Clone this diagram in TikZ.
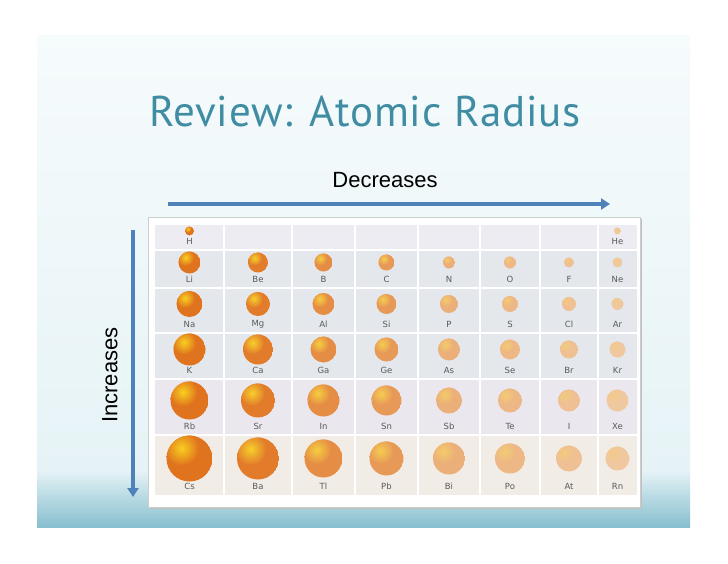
\documentclass[tikz,border=0pt]{standalone}
\usepackage{fontspec}
\setmainfont{Liberation Sans}
\newfontfamily\titlefont[LetterSpace=2]{PT Sans}
\newfontfamily\lblfont{DejaVu Sans}
\usetikzlibrary{arrows.meta}
\begin{document}
\begin{tikzpicture}[x=1pt,y=-1pt,
  lbl/.style={font=\lblfont\fontsize{8.5}{10}\selectfont, text=black!65, inner sep=0pt},
  arr/.style={line width=3.5pt, draw=arrowblue, -{Triangle[length=9pt,width=11pt]}}]
\definecolor{arrowblue}{HTML}{4E82B8}
\definecolor{titleblue}{HTML}{3F8CA3}
\definecolor{deep}{HTML}{E0741E}
\definecolor{pale}{HTML}{F0C8A0}
\definecolor{hldeep}{HTML}{F8D020}
\definecolor{bgtop}{HTML}{F6FBFC}
\definecolor{bgmid}{HTML}{E6F3F6}
\definecolor{bgbot}{HTML}{86BFCF}
\definecolor{rowa}{HTML}{ECECF2}
\definecolor{rowb}{HTML}{E4E8EC}
\definecolor{rowc}{HTML}{EAE8EE}
\definecolor{rowd}{HTML}{F2ECE6}
\useasboundingbox (0,0) rectangle (728,563);
\fill[white] (0,0) rectangle (728,563);
\shade[top color=bgtop, bottom color=bgmid] (37,35) rectangle (690,470);
\shade[top color=bgmid, bottom color=bgbot] (37,470) rectangle (690,527);
\node[font=\titlefont\fontsize{43}{44}\selectfont, text=titleblue] (title) at (365,111) {Review: Atomic Radius};
\node[font=\fontsize{22}{24}\selectfont] (dec) at (385,180) {Decreases};
\node[font=\fontsize{22}{24}\selectfont, rotate=90] (inc) at (110,375) {Increases};
% table frame
\fill[black!25] (150,219) rectangle (642,509);
\fill[white] (148,217) rectangle (640,507);
\draw[black!20] (148,217) rectangle (640,507);
\fill[rowa] (155,225) rectangle (637,250);
\fill[rowb] (155,250) rectangle (637,379);
\fill[rowc] (155,379) rectangle (637,435);
\fill[rowd] (155,435) rectangle (637,495);
\foreach \x in {224,292,355,418,480,540,598} \draw[white, line width=1.5pt] (\x,225) -- (\x,495);
\foreach \y in {250,288,333,379,435} \draw[white, line width=1.5pt] (155,\y) -- (637,\y);
\foreach \row/\yt/\yb/\items in {
 1/225/250/{1/H/4.5/0, 8/He/3.5/100},
 2/250/288/{1/Li/11/0,2/Be/10/10,3/B/9/30,4/C/8/45,5/N/6/70,6/O/6/80,7/F/5/90,8/Ne/5/100},
 3/288/333/{1/Na/13/0,2/Mg/12/10,3/Al/11/30,4/Si/10/45,5/P/9/70,6/S/8/80,7/Cl/7/90,8/Ar/6/100},
 4/333/379/{1/K/16/0,2/Ca/15/10,3/Ga/13/30,4/Ge/12/45,5/As/11/70,6/Se/10/80,7/Br/9/90,8/Kr/8/100},
 5/379/435/{1/Rb/19/0,2/Sr/17/10,3/In/16/30,4/Sn/15/45,5/Sb/13/70,6/Te/12/80,7/I/11/90,8/Xe/11/100},
 6/435/495/{1/Cs/23/0,2/Ba/21/10,3/Tl/19/30,4/Pb/17/45,5/Bi/16/70,6/Po/15/80,7/At/13/90,8/Rn/12/100}} {
  \foreach \c/\name/\r/\m in \items {
    \pgfmathsetmacro{\xc}{{189.5,258,323.5,386.5,449,510,569,617.5}[\c-1]}
    \pgfmathsetmacro{\ylab}{\yb-9}
    \pgfmathsetmacro{\ysp}{(\yt+\yb-9)/2-2}
    \pgfmathtruncatemacro{\k}{100-\m}
    \pgfmathtruncatemacro{\hk}{100-0.8*\m}
    \colorlet{ballc}{deep!\k!pale}
    \colorlet{hlc}{hldeep!\hk!pale}
    \begin{scope}
      \clip (\xc,\ysp) circle (\r);
      \fill[ballc] (\xc,\ysp) circle (\r);
      \shade[inner color=hlc, outer color=ballc] ({\xc-0.35*\r},{\ysp-0.45*\r}) circle ({0.75*\r});
    \end{scope}
    \node[lbl] (e\name) at (\xc,\ylab) {\name};
  }
}
\coordinate (h1) at (168,204); \coordinate (h2) at (610,204);
\draw[arr] (h1) -- (h2);
\coordinate (v1) at (133,230); \coordinate (v2) at (133,497);
\draw[arr] (v1) -- (v2);
\end{tikzpicture}
\end{document}
